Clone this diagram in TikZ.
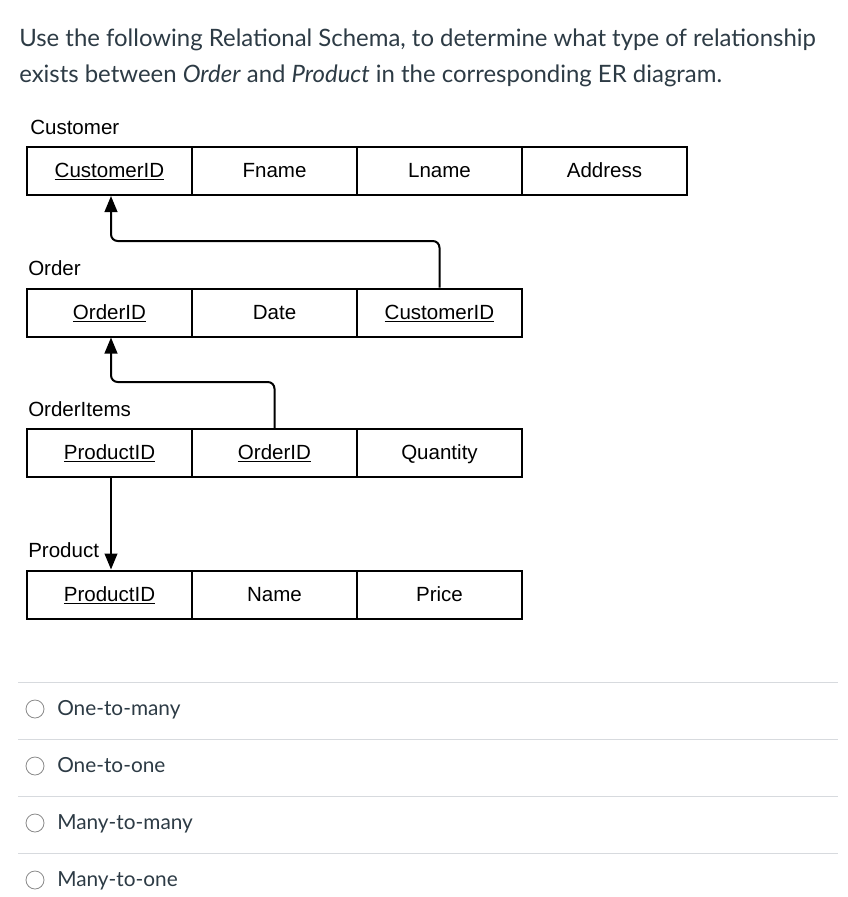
\documentclass[tikz,border=0pt]{standalone}
\usepackage{fontspec}
\setmainfont{Lato}
\newfontfamily\tabfont{Liberation Sans}
\usetikzlibrary{arrows.meta}
\definecolor{headtxt}{HTML}{2D3B45}
\definecolor{seprule}{HTML}{D7DADE}
\definecolor{radiogray}{HTML}{8A8A8A}
\tikzset{
  cell/.style={draw=black, line width=1.5pt, minimum width=123.75pt, minimum height=36pt,
    inner sep=0pt, font=\tabfont\fontsize{15.4}{18}\selectfont, text height=11pt, text depth=1pt},
  tlabel/.style={anchor=base west, inner sep=0pt, font=\tabfont\fontsize{15.4}{18}\selectfont},
  head/.style={anchor=base west, inner sep=0pt, text=headtxt, font=\fontsize{17.95}{21}\selectfont},
  opt/.style={anchor=base west, inner sep=0pt, text=headtxt, font=\fontsize{15.6}{19}\selectfont},
  radio/.style={circle, draw=radiogray, line width=0.6pt, minimum size=13.5pt, inner sep=0pt},
  sep/.style={draw=seprule, line width=0.8pt},
  fk/.style={draw=black, line width=1.5pt, rounded corners=5pt, -{Triangle[length=12pt,width=9.5pt]}}
}
\begin{document}
\begin{tikzpicture}[x=0.75pt,y=-0.75pt]
\useasboundingbox[fill=white] (0,0) rectangle (847,897);
% heading
\node[head] (h1) at (19,46) {Use the following Relational Schema, to determine what type of relationship};
\node[head] (h2) at (19,82) {exists between \textit{Order} and \textit{Product} in the corresponding ER diagram.};
% Customer
\node[tlabel] (lcust) at (30,134) {Customer};
\node[cell] (c1) at (109.5,171) {\underline{CustomerID}};
\node[cell] (c2) at (274.5,171) {Fname};
\node[cell] (c3) at (439.5,171) {Lname};
\node[cell] (c4) at (604.5,171) {Address};
% Order
\node[tlabel] (lord) at (28,275) {Order};
\node[cell] (o1) at (109.5,312.5) {\underline{OrderID}};
\node[cell] (o2) at (274.5,312.5) {Date};
\node[cell] (o3) at (439.5,312.5) {\underline{CustomerID}};
% OrderItems
\node[tlabel] (litems) at (28,416) {OrderItems};
\node[cell] (i1) at (109.5,453) {\underline{ProductID}};
\node[cell] (i2) at (274.5,453) {\underline{OrderID}};
\node[cell] (i3) at (439.5,453) {Quantity};
% Product
\node[tlabel] (lprod) at (28,557) {Product};
\node[cell] (p1) at (109.5,594.5) {\underline{ProductID}};
\node[cell] (p2) at (274.5,594.5) {Name};
\node[cell] (p3) at (439.5,594.5) {Price};
% connectors
\coordinate (j1) at (111,241);
\coordinate (j2) at (111,382);
\draw[fk] (o3.north) |- (j1) -- (c1.south -| j1);
\draw[fk] (i2.north) |- (j2) -- (o1.south -| j2);
\draw[fk, rounded corners=0pt] (i1.south -| j1) -- (p1.north -| j1);
% options
\draw[sep] (18,682.5) -- (838,682.5);
\draw[sep] (18,739.5) -- (838,739.5);
\draw[sep] (18,796.5) -- (838,796.5);
\draw[sep] (18,853.5) -- (838,853.5);
\node[radio] (r1) at (35,709) {};
\node[radio] (r2) at (35,766) {};
\node[radio] (r3) at (35,823) {};
\node[radio] (r4) at (35,880) {};
\node[opt] (t1) at (57,715) {One-to-many};
\node[opt] (t2) at (57,772) {One-to-one};
\node[opt] (t3) at (57,829) {Many-to-many};
\node[opt] (t4) at (57,886) {Many-to-one};
\end{tikzpicture}
\end{document}
